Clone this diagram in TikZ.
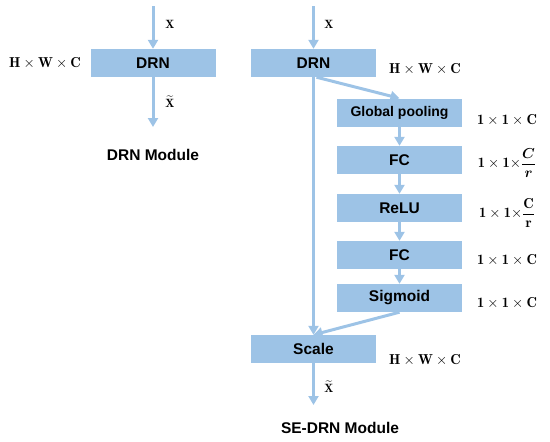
\documentclass[tikz,border=0pt]{standalone}
\usepackage{amsmath}
\usepackage{fontspec}
\newfontfamily\boxfont{Liberation Sans}
\usetikzlibrary{arrows.meta}
\definecolor{blockblue}{HTML}{9DC3E6}

\begin{document}
\begin{tikzpicture}[x=1pt,y=-1pt,
    blk/.style={fill=blockblue,minimum width=125pt,minimum height=28pt,inner sep=0pt,
      font=\boxfont\bfseries\fontsize{15.5}{16}\selectfont},
    flow/.style={draw=blockblue,line width=3pt,-{Triangle[width=10pt,length=9pt]}},
    dims/.style={font=\Large},
    sym/.style={font=\large},
    caption/.style={font=\boxfont\bfseries\fontsize{15.5}{16}\selectfont}]
      \useasboundingbox (0,0) rectangle (550,442);
      % plain DRN module
      \node[blk] (drnA) at (153,63) {DRN};
      \coordinate (inA) at (153,6);
      \coordinate (outA) at (153,127);
      \draw[flow] (inA) -- (drnA);
      \draw[flow] (drnA) -- (outA);
      \node[sym] (xA) at (170,24) {$\mathbf{X}$};
      \node[sym] (xtA) at (170,102) {$\widetilde{\mathbf{X}}$};
      \node[dims] (hwcA) at (45,63) {$\mathbf{H\times W\times C}$};
      \node[caption] (capA) at (153,155) {DRN Module};
      % SE-DRN module
      \node[blk] (drnB) at (313.5,63) {DRN};
      \node[blk,font=\boxfont\bfseries\fontsize{14}{15}\selectfont] (pool) at (399.5,112.5) {Global pooling};
      \node[blk] (fcA) at (399.5,160) {FC};
      \node[blk] (relu) at (399.5,208) {ReLU};
      \node[blk] (fcB) at (399.5,255) {FC};
      \node[blk] (sig) at (399.5,298) {Sigmoid};
      \node[blk] (scale) at (313.5,349) {Scale};
      \coordinate (inB) at (313.5,6);
      \coordinate (outB) at (313.5,405);
      \draw[flow] (inB) -- (drnB);
      \draw[flow] (drnB.south) -- (scale.north);
      \draw[flow] ([xshift=3pt]drnB.south) -- (pool.north);
      \foreach \a/\b in {pool/fcA,fcA/relu,relu/fcB,fcB/sig}
        \draw[flow] (\a) -- (\b);
      \draw[flow] (sig.south) -- (scale.north);
      \draw[flow] (scale) -- (outB);
      \node[sym] (xB) at (329,24) {$\mathbf{X}$};
      \node[sym] (xtB) at (329,387) {$\widetilde{\mathbf{X}}$};
      \node[dims] (hwcB) at (425,69) {$\mathbf{H\times W\times C}$};
      \node[dims] (dPool) at (507,120) {$\mathbf{1\times 1\times C}$};
      \node[dims] (dFcA) at (507,163) {$\mathbf{1\times 1\times}\dfrac{\boldsymbol{C}}{\boldsymbol{r}}$};
      \node[dims] (dRelu) at (507,213) {$\mathbf{1\times 1\times}\dfrac{\mathbf{C}}{\mathbf{r}}$};
      \node[dims] (dFcB) at (507,260) {$\mathbf{1\times 1\times C}$};
      \node[dims] (dSig) at (507,303) {$\mathbf{1\times 1\times C}$};
      \node[dims] (hwcC) at (425,360) {$\mathbf{H\times W\times C}$};
      \node[caption] (capB) at (340,428) {SE-DRN Module};
    \end{tikzpicture}
\end{document}
